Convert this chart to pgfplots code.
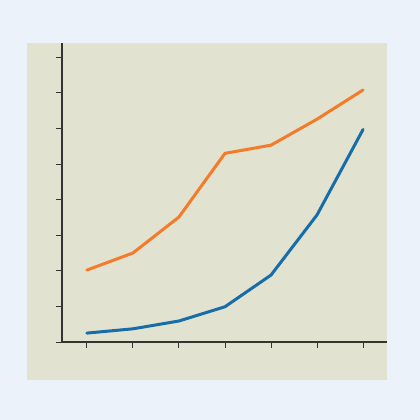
\documentclass[border=0pt]{standalone}
\usepackage{pgfplots}
\pgfplotsset{compat=1.18}
\definecolor{pagebg}{HTML}{EBF2FA}
\definecolor{panelbg}{HTML}{E1E2CF}
\definecolor{lineorange}{HTML}{F47B2A}
\definecolor{lineblue}{HTML}{176DA8}
\definecolor{axisgray}{HTML}{333333}
\begin{document}
\begin{tikzpicture}[x=1pt,y=1pt]
\fill[pagebg] (0,0) rectangle (420,420);
\useasboundingbox (0,0) rectangle (420,420);
\fill[panelbg] (27,40) rectangle (387,377);
\begin{axis}[
  at={(62pt,78pt)}, anchor=south west,
  scale only axis,
  width=325pt, height=299pt,
  xmin=-0.54, xmax=6.52,
  ymin=0, ymax=8.4,
  axis lines*=left,
  axis line style={axisgray, line width=1.1pt},
  xtick={0,...,6}, ytick={0,...,8},
  xticklabels={}, yticklabels={},
  tick align=outside,
  major tick length=6pt,
  tick style={axisgray, line width=0.9pt},
  clip=false,
]
\addplot[lineorange, line width=3pt, line join=round, line cap=round] coordinates {
  (0,2.02) (1,2.50) (2,3.51) (3,5.30) (4,5.53) (5,6.26) (6,7.08)
};
\addplot[lineblue, line width=3pt, line join=round, line cap=round] coordinates {
  (0,0.25) (1,0.37) (2,0.59) (3,0.99) (4,1.88) (5,3.57) (6,5.97)
};
\end{axis}
\end{tikzpicture}
\end{document}
